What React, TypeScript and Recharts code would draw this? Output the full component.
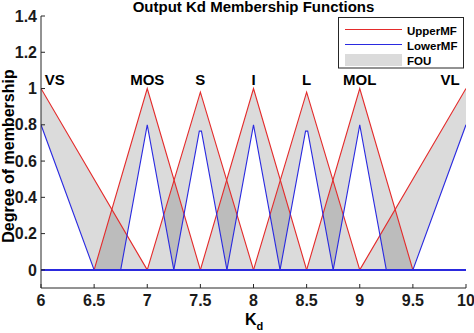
import React from 'react';
import { ComposedChart, Line, Area, XAxis, YAxis, ReferenceDot } from 'recharts';

// ---- data ----
const mfNames = ['VS', 'MOS', 'S', 'I', 'L', 'MOL', 'VL'];
const labelX = [6.13, 7, 7.5, 8, 8.5, 9, 9.85];
const labelY = 1.05;

const upperX = [
  [6, 7],
  [6.5, 7, 7.5],
  [7, 7.5, 8],
  [7.5, 8, 8.5],
  [8, 8.5, 9],
  [8.5, 9, 9.5],
  [9, 10],
];
const upperY = [
  [1, 0],
  [0, 1, 0],
  [0, 0.98, 0],
  [0, 1, 0],
  [0, 0.98, 0],
  [0, 1, 0],
  [0, 1],
];
const lowerX = [
  [6, 6.5],
  [6.75, 7, 7.25],
  [7.25, 7.49, 7.51, 7.75],
  [7.75, 8, 8.25],
  [8.25, 8.49, 8.51, 8.75],
  [8.75, 9, 9.25],
  [9.5, 10],
];
const lowerY = [
  [0.8, 0],
  [0, 0.8, 0],
  [0, 0.765, 0.765, 0],
  [0, 0.8, 0],
  [0, 0.765, 0.765, 0],
  [0, 0.8, 0],
  [0, 0.8],
];

const xTicks = [6, 6.5, 7, 7.5, 8, 8.5, 9, 9.5, 10];
const yTicks = [0, 0.2, 0.4, 0.6, 0.8, 1, 1.2, 1.4];
const xDomain: [number, number] = [6, 10];
const yDomain: [number, number] = [-0.1, 1.4];
const legendItems = ['UpperMF', 'LowerMF', 'FOU'];
const titleText = 'Output Kd Membership Functions';
const yLabelText = 'Degree of membership';

// ---- styles ----
const FONT = '"Liberation Sans", Arial, Helvetica, sans-serif';
const RED = '#e42b2b';
const BLUE = '#2a2ae0';
const AX = '#262626';

// ---- helpers (build tables from the arrays above) ----
function evalPw(xs: number[], ys: number[], x: number): number {
  if (x < xs[0] || x > xs[xs.length - 1]) return 0;
  for (let i = 0; i < xs.length - 1; i++) {
    if (x >= xs[i] && x <= xs[i + 1]) {
      const t = (x - xs[i]) / (xs[i + 1] - xs[i]);
      return ys[i] + t * (ys[i + 1] - ys[i]);
    }
  }
  return ys[ys.length - 1];
}

function lineData(xs: number[], ys: number[]) {
  const pts = xs.map((x, i) => ({ x, y: ys[i] }));
  if (xs[0] > xDomain[0]) pts.unshift({ x: xDomain[0], y: 0 });
  if (xs[xs.length - 1] < xDomain[1]) pts.push({ x: xDomain[1], y: 0 });
  return pts;
}

function fouData(i: number) {
  const xs = Array.from(new Set([...upperX[i], ...lowerX[i]])).sort((a, b) => a - b);
  return xs.map((x) => ({
    x,
    r: [evalPw(lowerX[i], lowerY[i], x), evalPw(upperX[i], upperY[i], x)],
  }));
}

const tickStyle = { fill: '#1a1a1a', fontSize: 16, fontWeight: 'bold', fontFamily: FONT };

export default function App() {
  return (
    <div style={{ position: 'absolute', left: 0, top: 0, width: 474, height: 333, background: '#fff' }}>
      <div style={{ position: 'absolute', left: 0, top: 0 }}>
        <ComposedChart width={474} height={333} margin={{ top: 16, right: 8, bottom: 0, left: 0 }}>
          <XAxis
            dataKey="x"
            type="number"
            domain={xDomain}
            allowDataOverflow
            ticks={xTicks}
            interval={0}
            height={45}
            tickSize={-4}
            tickMargin={11}
            tick={tickStyle}
            axisLine={{ stroke: AX }}
            tickLine={{ stroke: AX }}
          />
          <XAxis
            xAxisId="top"
            orientation="top"
            dataKey="x"
            type="number"
            domain={xDomain}
            allowDataOverflow
            ticks={xTicks}
            interval={0}
            height={0}
            tickSize={-4}
            tickFormatter={() => ''}
            axisLine={{ stroke: AX }}
            tickLine={{ stroke: AX }}
          />
          <YAxis
            type="number"
            domain={yDomain}
            allowDataOverflow
            ticks={yTicks}
            interval={0}
            width={41}
            tickSize={-4}
            tickMargin={8}
            tick={tickStyle}
            axisLine={{ stroke: AX }}
            tickLine={{ stroke: AX }}
          />
          <YAxis
            yAxisId="right"
            orientation="right"
            type="number"
            domain={yDomain}
            allowDataOverflow
            ticks={yTicks}
            interval={0}
            width={0}
            tickSize={-4}
            tickFormatter={() => ''}
            axisLine={{ stroke: AX }}
            tickLine={{ stroke: AX }}
          />
          {mfNames.map((n, i) => (
            <Area
              key={'fou' + n}
              data={fouData(i)}
              dataKey="r"
              type="linear"
              stroke="none"
              fill="#000"
              fillOpacity={0.14}
              isAnimationActive={false}
              dot={false}
              activeDot={false}
            />
          ))}
          {mfNames.map((n, i) => (
            <Line
              key={'up' + n}
              data={lineData(upperX[i], upperY[i])}
              dataKey="y"
              type="linear"
              stroke={RED}
              strokeWidth={1.1}
              dot={false}
              activeDot={false}
              isAnimationActive={false}
            />
          ))}
          {mfNames.map((n, i) => (
            <Line
              key={'lo' + n}
              data={lineData(lowerX[i], lowerY[i])}
              dataKey="y"
              type="linear"
              stroke={BLUE}
              strokeWidth={1.1}
              dot={false}
              activeDot={false}
              isAnimationActive={false}
            />
          ))}
          {mfNames.map((n, i) => (
            <ReferenceDot
              key={'lbl' + n}
              x={labelX[i]}
              y={labelY}
              r={0}
              stroke="none"
              fill="none"
              ifOverflow="visible"
              label={{
                value: n,
                position: 'center',
                fill: '#000',
                fontSize: 15,
                fontWeight: 'bold',
                fontFamily: FONT,
              }}
            />
          ))}
        </ComposedChart>
      </div>
      <svg
        width={474}
        height={333}
        style={{ position: 'absolute', left: 0, top: 0, pointerEvents: 'none' }}
        fontFamily={FONT}
      >
        <text x={253.5} y={12.3} textAnchor="middle" fontSize={15} fontWeight="bold" fill="#000">
          {titleText}
        </text>
        <text
          x={-156}
          y={13.5}
          transform="rotate(-90)"
          textAnchor="middle"
          fontSize={16}
          fontWeight="bold"
          fill="#000"
        >
          {yLabelText}
        </text>
        <text x={245} y={325} fontSize={16} fontWeight="bold" fill="#000">
          K
          <tspan fontSize={11} dy={5}>
            d
          </tspan>
        </text>
        <g>
          <rect x={338.5} y={17.5} width={125} height={50.5} fill="#fff" stroke={AX} strokeWidth={1} />
          <line x1={345} x2={402} y1={29.5} y2={29.5} stroke={RED} strokeWidth={1.1} />
          <line x1={345} x2={402} y1={44.5} y2={44.5} stroke={BLUE} strokeWidth={1.1} />
          <rect x={345} y={54} width={57} height={12} fill="#000" fillOpacity={0.14} />
          {legendItems.map((t, i) => (
            <text key={t} x={407} y={34.5 + i * 15.3} fontSize={11.5} fontWeight="bold" fill="#000">
              {t}
            </text>
          ))}
        </g>
      </svg>
    </div>
  );
}
